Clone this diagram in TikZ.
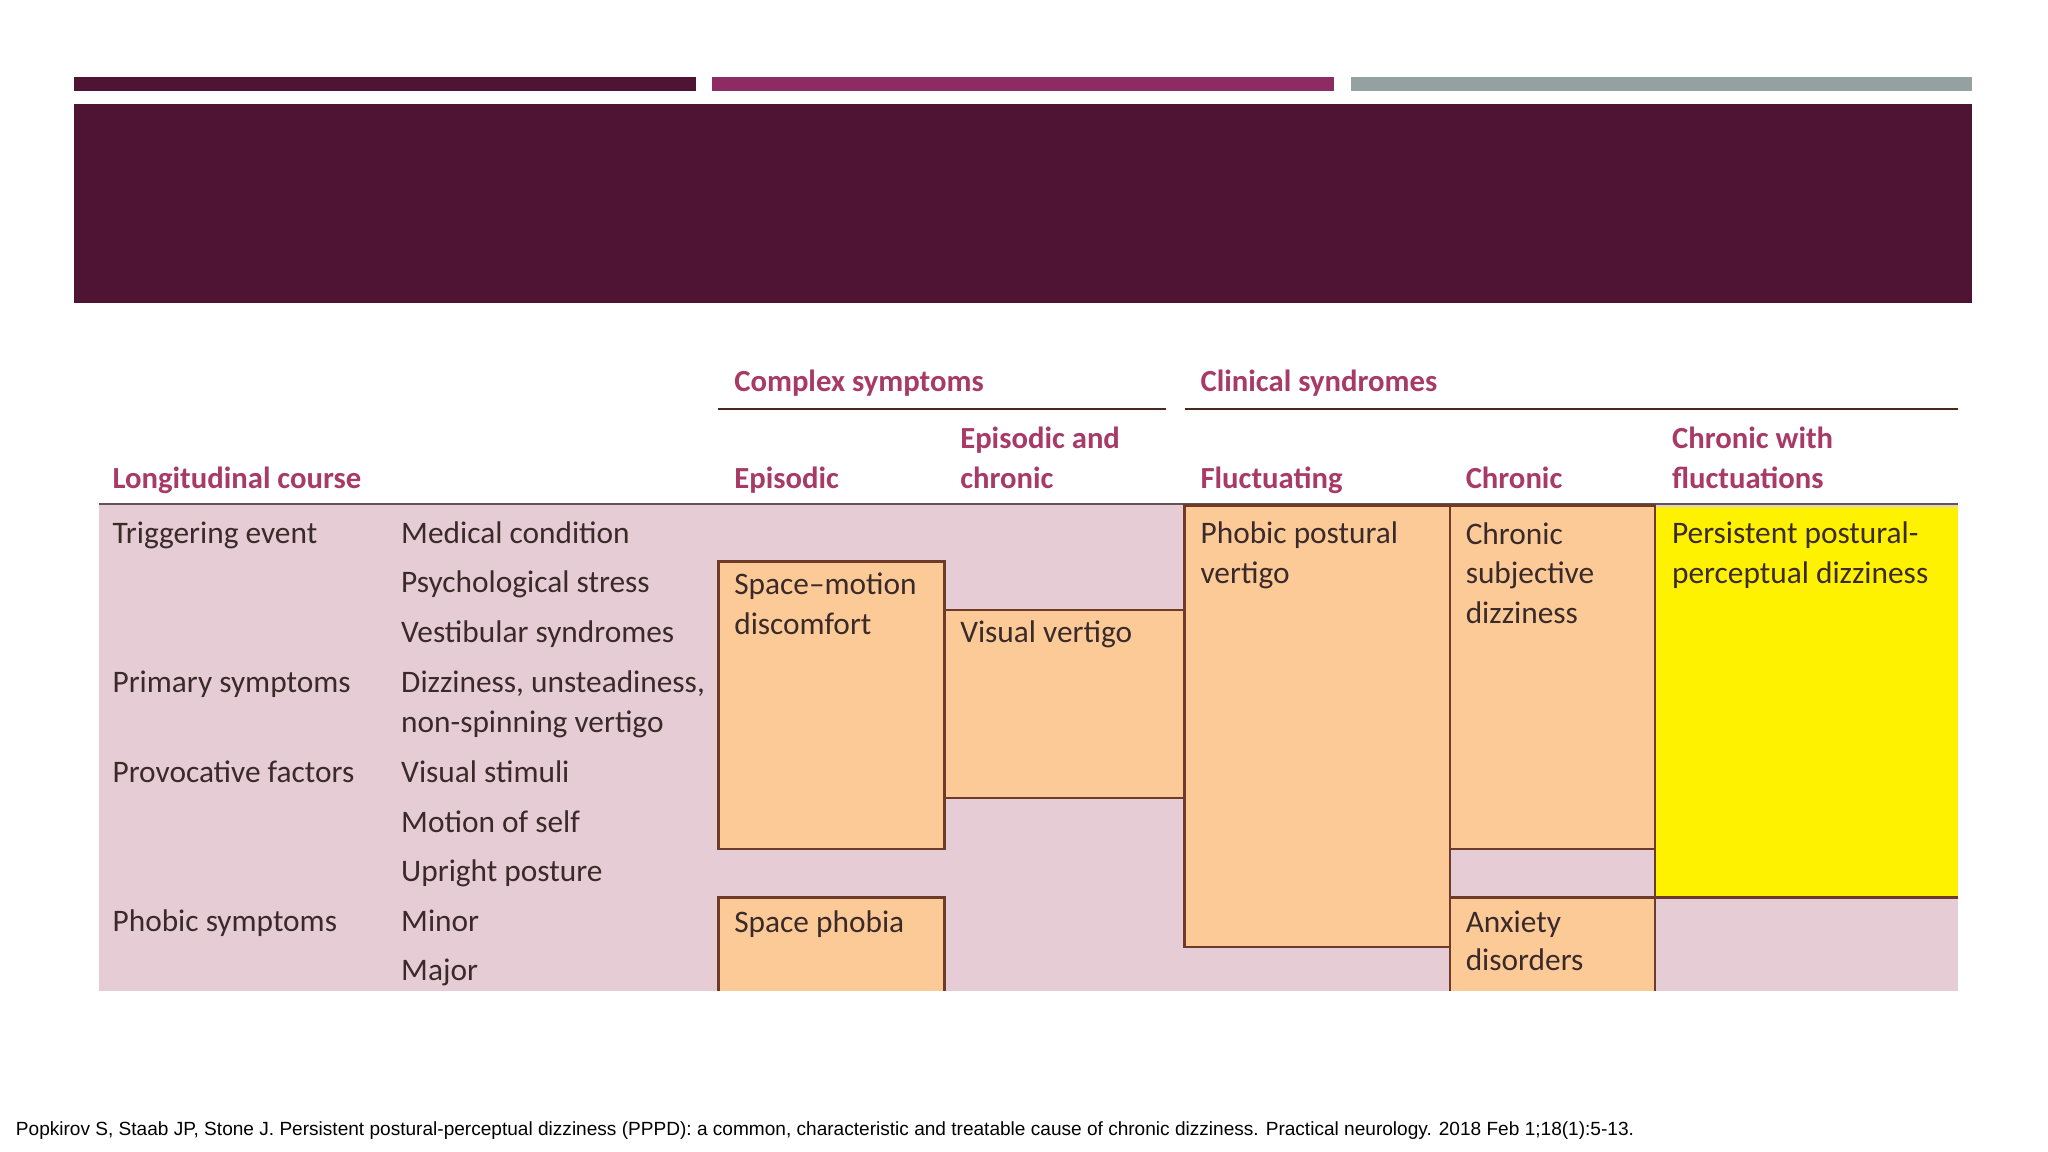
\documentclass[tikz,border=0pt]{standalone}
\usepackage{fontspec}
\setmainfont{Carlito}
\newfontfamily\citefont{Liberation Sans}
\definecolor{darkplum}{HTML}{4F1434}
\definecolor{barpink}{HTML}{8E2B63}
\definecolor{bargray}{HTML}{95A0A0}
\definecolor{hdr}{HTML}{A83A68}
\definecolor{bgpink}{HTML}{E6CDD5}
\definecolor{orng}{HTML}{FCCA97}
\definecolor{edge}{HTML}{6E3A2A}
\definecolor{txt}{HTML}{3A2A2A}
\tikzset{
  hd/.style={anchor=base west,inner sep=0,font=\fontsize{23.5}{31}\selectfont\bfseries,text=hdr,align=left},
  tx/.style={anchor=base west,inner sep=0,font=\fontsize{24}{31}\selectfont,text=txt,align=left},
  bx/.style={fill=orng,draw=edge,line width=2pt},
}
\begin{document}
\begin{tikzpicture}[x=1pt,y=-1pt]
\useasboundingbox (0,0) rectangle (1568,882);
\fill[white] (0,0) rectangle (1568,882);
\fill[darkplum] (57,59) rectangle (533,70);
\fill[barpink] (545,59) rectangle (1021,70);
\fill[bargray] (1034,59) rectangle (1510,70);
\fill[darkplum] (57,80) rectangle (1510,232);
% headers
\node[hd] (h1) at (562,300) {Complex symptoms};
\node[hd] (h2) at (919,300) {Clinical syndromes};
\draw[edge!70!black,line width=1.5pt] (550,313) -- (893,313);
\draw[edge!70!black,line width=1.5pt] (907,313) -- (1499,313);
\node[hd] (lc) at (86,374) {Longitudinal course};
\node[hd] (ep) at (562,374) {Episodic};
\node[hd] (ec) at (735,374) {Episodic and\\chronic};
\node[hd] (fl) at (919,374) {Fluctuating};
\node[hd] (ch) at (1122,374) {Chronic};
\node[hd] (cf) at (1280,374) {Chronic with\\fluctuations};
% background
\fill[bgpink] (76,387) rectangle (1499,759);
\draw[txt!80,line width=2pt] (76,386) -- (1499,386);
% boxes
\fill[orng] (551,688) rectangle (722,759);
\draw[bx] (550,759) -- (550,687) -- (723,687) -- (723,759);
\draw[bx] (550,430) rectangle (723,650);
\draw[bx] (723,467) rectangle (907,611);
\draw[bx] (907,387) rectangle (1110,725);
\draw[bx] (1110,387) rectangle (1267,650);
\draw[edge,line width=2pt] (1110,650) -- (1110,687) (1267,650) -- (1267,687);
\fill[orng] (1111,688) rectangle (1266,759);
\draw[bx] (1110,759) -- (1110,687) -- (1267,687) -- (1267,759);
\fill[yellow] (1268,388) rectangle (1499,686);
\draw[draw=edge,line width=2pt] (1267,387) -- (1267,687) -- (1499,687);
% box texts
\node[tx] (smd) at (562,486) {Space--motion\\discomfort};
\node[tx] (sp) at (562,714) {Space phobia};
\node[tx] (vv) at (735,492) {Visual vertigo};
\node[tx] (ppv) at (919,447) {Phobic postural\\vertigo};
\node[tx,font=\fontsize{24}{30}\selectfont] (csd) at (1122,477) {Chronic\\subjective\\dizziness};
\node[tx,font=\fontsize{24}{29}\selectfont] (ad) at (1122,743) {Anxiety\\disorders};
\node[tx] (pppd) at (1280,447) {Persistent postural-\\perceptual dizziness};
% rows
\node[tx] (r1) at (86,416) {Triggering event};
\node[tx] (r2) at (86,530) {Primary symptoms};
\node[tx] (r3) at (86,599) {Provocative factors};
\node[tx] (r4) at (86,713) {Phobic symptoms};
\node[tx] (s1) at (307,416) {Medical condition};
\node[tx] (s2) at (307,454) {Psychological stress};
\node[tx] (s3) at (307,492) {Vestibular syndromes};
\node[tx] (s4) at (307,561) {Dizziness, unsteadiness,\\non-spinning vertigo};
\node[tx] (s5) at (307,599) {Visual stimuli};
\node[tx] (s6) at (307,637) {Motion of self};
\node[tx] (s7) at (307,675) {Upright posture};
\node[tx] (s8) at (307,713) {Minor};
\node[tx] (s9) at (307,751) {Major};
\node[anchor=base west,inner sep=0,font=\citefont\fontsize{14.6}{17}\selectfont] (cite) at (12,869) {Popkirov S, Staab JP, Stone J. Persistent postural-perceptual dizziness (PPPD): a common, characteristic and treatable cause of chronic dizziness. Practical neurology. 2018 Feb 1;18(1):5-13.};
\end{tikzpicture}
\end{document}
